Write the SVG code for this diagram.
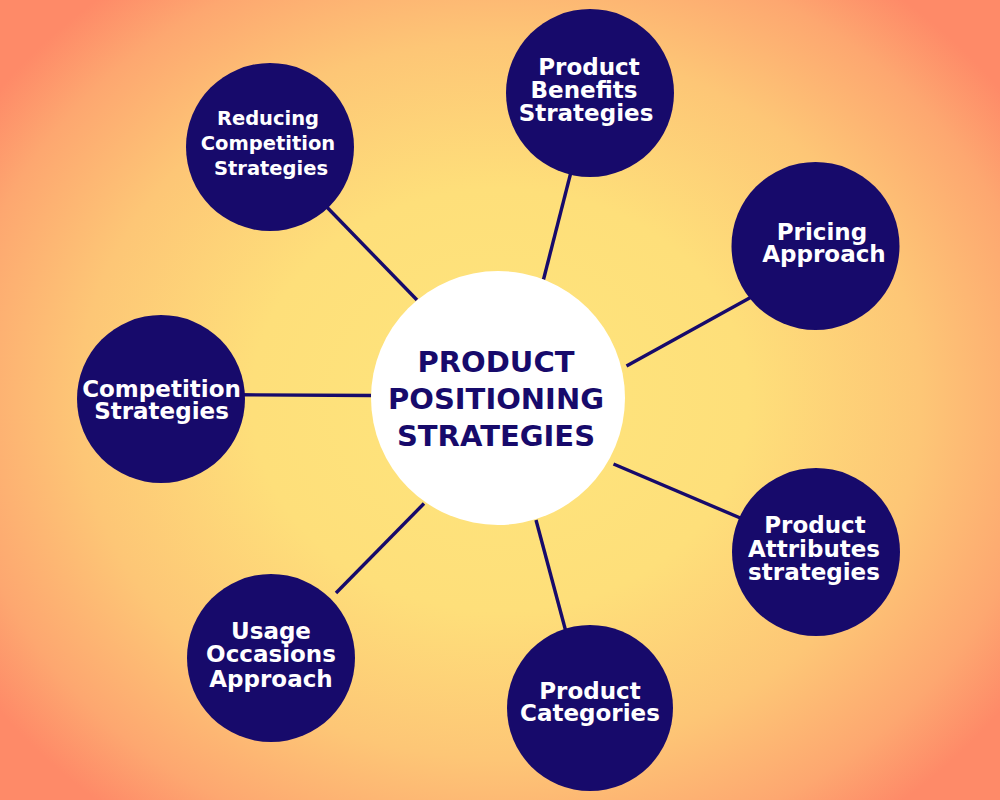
<svg xmlns="http://www.w3.org/2000/svg" width="1000" height="800" viewBox="0 0 1000 800">
  <defs>
    <radialGradient id="bg" cx="500" cy="400" r="620" gradientUnits="userSpaceOnUse" gradientTransform="translate(0 60) scale(1 0.85)">
      <stop offset="0" stop-color="#fee57c"/>
      <stop offset="0.4" stop-color="#fedf7a"/>
      <stop offset="0.68" stop-color="#fdc676"/>
      <stop offset="0.88" stop-color="#fda770"/>
      <stop offset="1.05" stop-color="#fe8a68"/>
    </radialGradient>
    <style>
      .sat { fill: #170a6b; }
      .hub { fill: #ffffff; }
      .lbl { font-family: "DejaVu Sans", "Liberation Sans", sans-serif; font-weight: bold; font-size: 23px; fill: #ffffff; text-anchor: middle; }
      .small { font-size: 19.5px; }
      .hubtxt { font-family: "DejaVu Sans", "Liberation Sans", sans-serif; font-weight: bold; font-size: 29px; fill: #170a6b; text-anchor: middle; }
      .conn line { stroke: #170a6b; stroke-width: 3.4; stroke-linecap: butt; }
    </style>
  </defs>
  <rect x="0" y="0" width="1000" height="800" fill="url(#bg)"/>

  <g id="connectors" class="conn">
    <line x1="320" y1="200" x2="417" y2="300"/>
    <line x1="572" y1="168" x2="543.5" y2="279.5"/>
    <line x1="755" y1="295" x2="626.5" y2="366"/>
    <line x1="240" y1="394.8" x2="371" y2="395.5"/>
    <line x1="745" y1="520" x2="613.5" y2="464"/>
    <line x1="336" y1="593" x2="424" y2="503.5"/>
    <line x1="566" y1="632" x2="536" y2="520"/>
  </g>

  <g id="hub">
    <circle class="hub" cx="498" cy="398" r="127"/>
    <text class="hubtxt" x="496" y="372">PRODUCT</text>
    <text class="hubtxt" x="496" y="409">POSITIONING</text>
    <text class="hubtxt" x="496" y="446">STRATEGIES</text>
  </g>

  <g id="node-reducing">
    <circle class="sat" cx="270" cy="147" r="84"/>
    <text class="lbl small" x="268" y="125">Reducing</text>
    <text class="lbl small" x="268" y="150">Competition</text>
    <text class="lbl small" x="271" y="175">Strategies</text>
  </g>

  <g id="node-benefits">
    <circle class="sat" cx="590" cy="93" r="84"/>
    <text class="lbl" x="589" y="75">Product</text>
    <text class="lbl" x="584" y="98">Benefits</text>
    <text class="lbl" x="586" y="121">Strategies</text>
  </g>

  <g id="node-pricing">
    <circle class="sat" cx="815.5" cy="246" r="84"/>
    <text class="lbl" x="822" y="240">Pricing</text>
    <text class="lbl" x="824" y="262">Approach</text>
  </g>

  <g id="node-competition">
    <circle class="sat" cx="161" cy="399" r="84"/>
    <text class="lbl" x="161.5" y="397">Competition</text>
    <text class="lbl" x="161.5" y="419">Strategies</text>
  </g>

  <g id="node-attributes">
    <circle class="sat" cx="816" cy="552" r="84"/>
    <text class="lbl" x="815" y="533">Product</text>
    <text class="lbl" x="814" y="557">Attributes</text>
    <text class="lbl" x="814" y="580">strategies</text>
  </g>

  <g id="node-usage">
    <circle class="sat" cx="271" cy="658" r="84"/>
    <text class="lbl" x="271" y="639">Usage</text>
    <text class="lbl" x="271" y="662">Occasions</text>
    <text class="lbl" x="271" y="687">Approach</text>
  </g>

  <g id="node-categories">
    <circle class="sat" cx="590" cy="708" r="83"/>
    <text class="lbl" x="590" y="699">Product</text>
    <text class="lbl" x="590" y="721">Categories</text>
  </g>
</svg>
